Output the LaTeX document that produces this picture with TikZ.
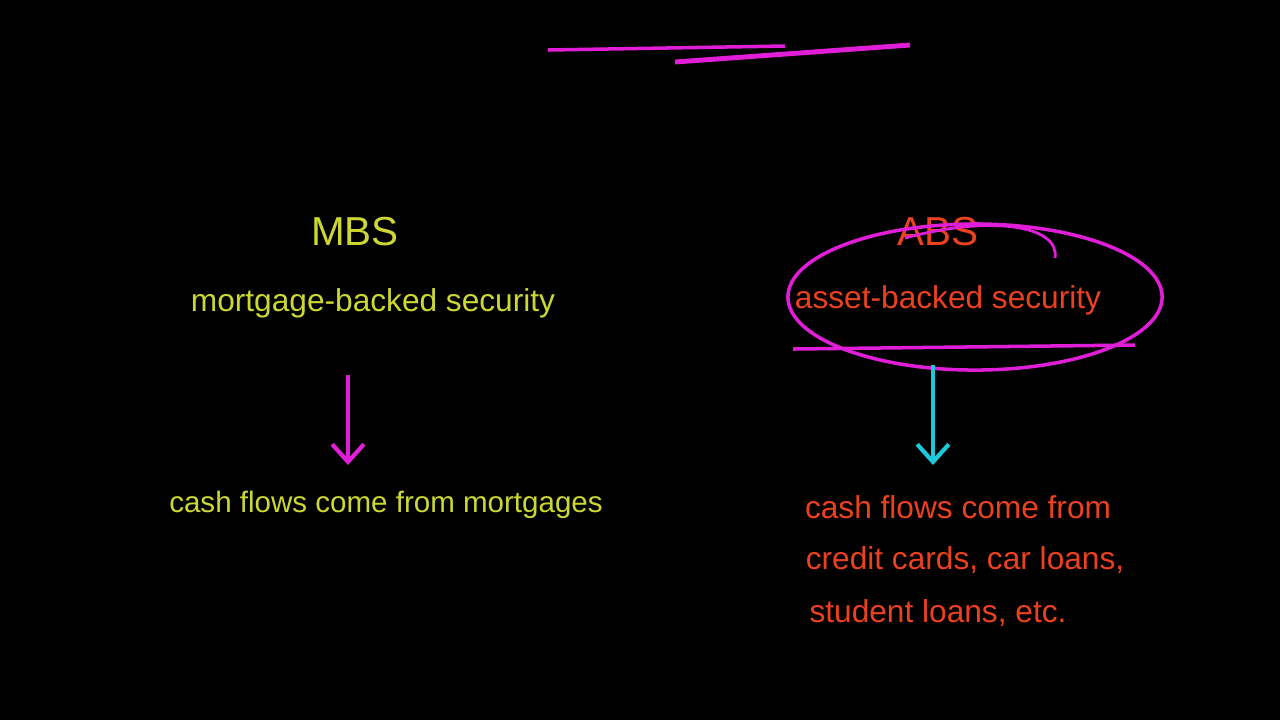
\documentclass[tikz,border=0pt]{standalone}
\usepackage{fontspec}
\setmainfont{Liberation Sans}
\usetikzlibrary{arrows.meta,shapes.geometric}
\definecolor{yel}{RGB}{205,215,50}
\definecolor{org}{RGB}{235,65,30}
\definecolor{mag}{RGB}{225,30,215}
\definecolor{cya}{RGB}{30,200,220}
\begin{document}
\begin{tikzpicture}[x=0.01cm,y=-0.01cm,
  ytxt/.style={text=yel,font=\fontsize{9}{11}\selectfont,inner sep=0},
  otxt/.style={text=org,font=\fontsize{9}{11}\selectfont,inner sep=0},
  big/.style={font=\fontsize{11.5}{13}\selectfont},
  arr/.style={line width=1.2pt,-{Straight Barb[length=5pt,width=9pt]}}]
\fill[black] (0,0) rectangle (1280,720);
\useasboundingbox (0,0) rectangle (1280,720);
% top strokes
\coordinate (t1) at (548,50); \coordinate (t2) at (785,46);
\coordinate (t3) at (675,62); \coordinate (t4) at (910,45);
\draw[mag,line width=1pt] (t1) -- (t2);
\draw[mag,line width=1.4pt] (t3) -- (t4);
% left
\node[ytxt,big] (mbs) at (355,232) {MBS};
\node[ytxt] (mbsl) at (373,303) {mortgage-backed security};
\node[ytxt,font=\fontsize{8.4}{10}\selectfont] (mbsc) at (386,505) {cash flows come from mortgages};
\coordinate (la) at (348,375); \coordinate (lb) at (348,465);
\draw[mag,arr] (la) -- (lb);
% right
\node[otxt,big] (abs) at (938,232) {ABS};
\node[otxt] (absl) at (948,300) {asset-backed security};
\node[mag,draw,ellipse,line width=1pt,minimum width=3.74cm,minimum height=1.46cm,inner sep=0] (ell) at (975,297) {};
\coordinate (u1) at (793,349); \coordinate (u2) at (1135,345);
\draw[mag,line width=1pt] (u1) -- (u2);
\coordinate (c1) at (905,238); \coordinate (c2) at (1055,258);
\draw[mag,line width=0.8pt] (c1) .. controls (990,215) and (1060,225) .. (c2);
\coordinate (ra) at (933,365); \coordinate (rb) at (933,465);
\draw[cya,arr] (ra) -- (rb);
\node[otxt] (r1) at (958,507) {cash flows come from};
\node[otxt] (r2) at (965,560) {credit cards, car loans,};
\node[otxt] (r3) at (938,613) {student loans, etc.};
\end{tikzpicture}
\end{document}
